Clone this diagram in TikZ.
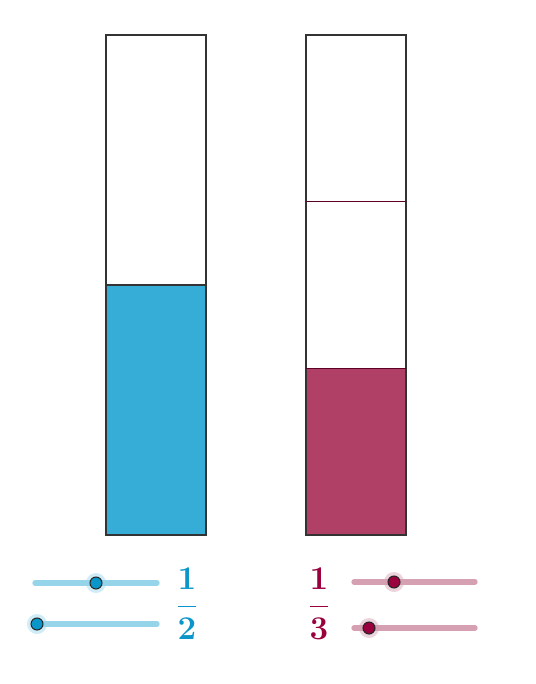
\documentclass[tikz,border=0pt]{standalone}
\usepackage{xcolor}
\usetikzlibrary{calc}
\definecolor{myblue}{RGB}{53,173,214}
\definecolor{bluetext}{RGB}{10,150,200}
\definecolor{blueline}{RGB}{150,212,234}
\definecolor{mycrimson}{RGB}{176,64,102}
\definecolor{crimsontext}{RGB}{153,0,61}
\definecolor{crimsonline}{RGB}{212,160,178}
\colorlet{framecol}{black!80}
\tikzstyle{bar}=[framecol,line width=1.5pt]
\newcommand{\bigfrac}[2]{{\fontsize{25}{30}\selectfont\boldmath$\displaystyle\frac{#1}{#2}$}}

\begin{document}
\begin{tikzpicture}[x=0.75pt,y=-0.75pt,
    track/.style={line width=4pt,line cap=round},
    knob/.style={circle,draw=black!85,line width=0.8pt,inner sep=0pt,minimum size=9pt},
    halo/.style={circle,inner sep=0pt,minimum size=15pt,opacity=0.45},
    fraclabel/.style={inner sep=0pt}
  ]
  \useasboundingbox (0,0) rectangle (535,684);

  \def\W{100}   % bar width
  \def\T{35}    % bar top
  \def\B{535}   % bar bottom
  \def\xa{106}  % left bar
  \def\xb{306}  % right bar

  % FILLS
  \fill[myblue] (\xa,285) rectangle (\xa+\W,\B);
  \fill[mycrimson] (\xb,{\B-(\B-\T)/3}) rectangle (\xb+\W,\B);

  % BARS
  \draw[bar] (\xa,\T) rectangle (\xa+\W,\B);
  \draw[bar] (\xa,285) -- (\xa+\W,285);
  \draw[bar] (\xb,\T) rectangle (\xb+\W,\B);
  \foreach \i in {1,2}{
    \draw[bar,line width=1.2pt,crimsontext!60!black] (\xb,{\T+\i*(\B-\T)/3}) -- (\xb+\W,{\T+\i*(\B-\T)/3});
  }

  % SLIDERS
  \coordinate (LA0) at (35,583);  \coordinate (LA1) at (157,583);
  \coordinate (LB0) at (37,624);  \coordinate (LB1) at (157,624);
  \coordinate (RA0) at (354,582); \coordinate (RA1) at (475,582);
  \coordinate (RB0) at (354,628); \coordinate (RB1) at (475,628);
  \draw[track,blueline] (LA0) -- (LA1);
  \draw[track,blueline] (LB0) -- (LB1);
  \draw[track,crimsonline] (RA0) -- (RA1);
  \draw[track,crimsonline] (RB0) -- (RB1);

  \node[halo,fill=blueline] at (96,583) {};
  \node[knob,fill=bluetext] (kLA) at (96,583) {};
  \node[halo,fill=blueline] at (37,624) {};
  \node[knob,fill=bluetext] (kLB) at (37,624) {};
  \node[halo,fill=crimsonline] at (394,582) {};
  \node[knob,fill=crimsontext] (kRA) at (394,582) {};
  \node[halo,fill=crimsonline] at (369,628) {};
  \node[knob,fill=crimsontext] (kRB) at (369,628) {};

  % FRACTIONS
  \node[fraclabel,text=bluetext] (fL) at (187,604) {\bigfrac{1}{2}};
  \node[fraclabel,text=crimsontext] (fR) at (319,604) {\bigfrac{1}{3}};

\end{tikzpicture}
\end{document}
